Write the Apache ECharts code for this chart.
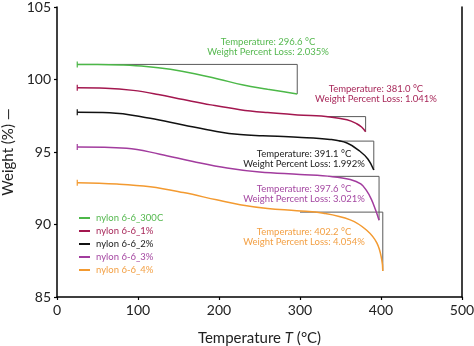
<!DOCTYPE html>
<html><head><meta charset="utf-8">
<script src="https://cdn.jsdelivr.net/npm/echarts@6/dist/echarts.min.js"></script>
<style>html,body{margin:0;padding:0;background:#fff}#c{width:474px;height:346px}</style>
</head><body><div id="c"></div>
<script>
// TGA weight curves of nylon 6-6 samples
const names = ['nylon 6-6_300C', 'nylon 6-6_1%', 'nylon 6-6_2%', 'nylon 6-6_3%', 'nylon 6-6_4%'];

const tempA = [25, 50, 80, 110, 140, 170, 200, 230, 260, 280, 296.6];
const weightA = [101.04, 101.04, 101.0, 100.9, 100.7, 100.4, 100.02, 99.62, 99.33, 99.15, 99.005];

const tempB = [25, 60, 94, 125, 156, 190, 226, 260, 297, 337, 358, 370, 376, 381.0];
const weightB = [99.43, 99.4, 99.25, 98.97, 98.62, 98.25, 97.92, 97.72, 97.56, 97.42, 97.22, 96.95, 96.72, 96.4];

const tempC = [25, 65, 115, 156, 197, 226, 254, 297, 337, 358, 374, 384, 391.1];
const weightC = [97.74, 97.71, 97.32, 96.86, 96.42, 96.2, 96.12, 96.02, 95.87, 95.62, 95.05, 94.5, 93.76];

const tempD = [25, 86, 127, 168, 210, 250, 300, 340, 362, 375, 382, 388, 393, 397.6];
const weightD = [95.34, 95.26, 94.85, 94.35, 93.9, 93.62, 93.45, 93.3, 93.1, 92.8, 92.35, 91.75, 91.05, 90.3];

const tempE = [25, 74, 115, 156, 197, 226, 260, 296, 329, 362, 382, 395, 401, 402.2];
const weightE = [92.88, 92.79, 92.6, 92.2, 91.7, 91.36, 91.1, 90.95, 90.78, 90.32, 89.62, 88.72, 87.55, 86.8];

// step analysis results: end temperature and weight percent loss
const stepTemp = [296.6, 381.0, 391.1, 397.6, 402.2];
const stepLoss = [2.035, 1.041, 1.992, 3.021, 4.054];
// temperature where each step baseline begins
const stepStart = [25, 333, 348, 335, 300];

const xTicks = [0, 100, 200, 300, 400, 500];
const yTicks = [85, 90, 95, 100, 105];

const colors = ['#4cb848', '#a3174f', '#111111', '#a23c9e', '#f39a30'];
const textColors = ['#55b84f', '#a8285a', '#222222', '#a548a2', '#f3a044'];
// anchor (centre) of each step label, in data units
const labelAnchor = [[260.5, 102.26], [393.8, 98.98], [305, 94.5], [305, 92.12], [305, 89.16]];

const temps = [tempA, tempB, tempC, tempD, tempE];
const weights = [weightA, weightB, weightC, weightD, weightE];

const FONT = 'Lato';

const series = [];
names.forEach((n, i) => {
  const data = temps[i].map((t, k) => {
    const item = { value: [t, weights[i][k]] };
    if (k === 0) { item.symbol = 'rect'; item.symbolSize = [1.2, 6]; }
    return item;
  });
  series.push({
    name: n, type: 'line', data: data,
    symbol: 'none', showSymbol: true, smooth: 0.4,
    lineStyle: { color: colors[i], width: 1.5 },
    itemStyle: { color: colors[i] },
    z: 3, silent: true
  });
});

// step brackets: baseline from stepStart to end temperature, then down to the curve end
names.forEach((n, i) => {
  const w = weights[i];
  const end = w[w.length - 1];
  const top = end + stepLoss[i];
  series.push({
    type: 'line', data: [[stepStart[i], top], [stepTemp[i], top], [stepTemp[i], end]],
    symbol: 'none', lineStyle: { color: '#5a5a5a', width: 1 }, z: 2, silent: true,
    markPoint: {
      symbol: 'rect', symbolSize: 1, itemStyle: { color: 'rgba(0,0,0,0)' },
      data: [{
        coord: labelAnchor[i],
        label: {
          show: true, position: 'inside', align: 'center', verticalAlign: 'middle',
          fontFamily: FONT, fontSize: 9.5, lineHeight: 10, color: textColors[i],
          formatter: 'Temperature: ' + stepTemp[i].toFixed(1) + ' °C\nWeight Percent Loss: ' + stepLoss[i].toFixed(3) + '%'
        }
      }]
    }
  });
});

const chart = echarts.init(document.getElementById('c'), null, { renderer: 'canvas' });
chart.setOption({
  animation: false,
  backgroundColor: '#fff',
  grid: { left: 57, right: 12, top: 7, bottom: 49, containLabel: false, outerBoundsMode: 'none' },
  legend: {
    orient: 'vertical', left: 79, top: 213, itemWidth: 11, itemHeight: 2, itemGap: 3,
    icon: 'rect', selectedMode: false, padding: 0,
    textStyle: { fontFamily: FONT, fontSize: 9.5, padding: [0, 0, 0, 1] },
    data: names.map((n, i) => ({ name: n, itemStyle: { color: colors[i] }, textStyle: { color: textColors[i] } }))
  },
  xAxis: {
    type: 'value', min: xTicks[0], max: xTicks[xTicks.length - 1], interval: 100,
    name: '{a|Temperature }{i|T}{a| (°C)}', nameLocation: 'middle', nameGap: 34,
    nameTextStyle: { rich: { a: { fontFamily: FONT, fontSize: 15, color: '#222' }, i: { fontFamily: FONT, fontSize: 15, fontStyle: 'italic', color: '#222' } } },
    axisLine: { lineStyle: { color: '#000', width: 1.5 } },
    axisTick: { length: 3, lineStyle: { color: '#000', width: 1.2 } },
    axisLabel: { fontFamily: FONT, fontSize: 14, color: '#222', margin: 6 },
    splitLine: { show: false }
  },
  yAxis: [{
    type: 'value', min: yTicks[0], max: yTicks[yTicks.length - 1], interval: 5,
    name: 'Weight (%) —', nameLocation: 'middle', nameGap: 37, nameRotate: 90,
    nameTextStyle: { fontFamily: FONT, fontSize: 15, color: '#222' },
    axisLine: { show: true, lineStyle: { color: '#000', width: 1.5 } },
    axisTick: { show: true, length: 3, lineStyle: { color: '#000', width: 1.2 } },
    axisLabel: { fontFamily: FONT, fontSize: 14, color: '#222', margin: 6 },
    splitLine: { show: false }
  }, {
    type: 'value', position: 'right', min: yTicks[0], max: yTicks[yTicks.length - 1], interval: 5,
    axisLine: { show: true, lineStyle: { color: '#000', width: 1.5 } },
    axisTick: { show: false }, axisLabel: { show: false }, splitLine: { show: false }
  }],
  series: series
});
</script>
</body></html>
